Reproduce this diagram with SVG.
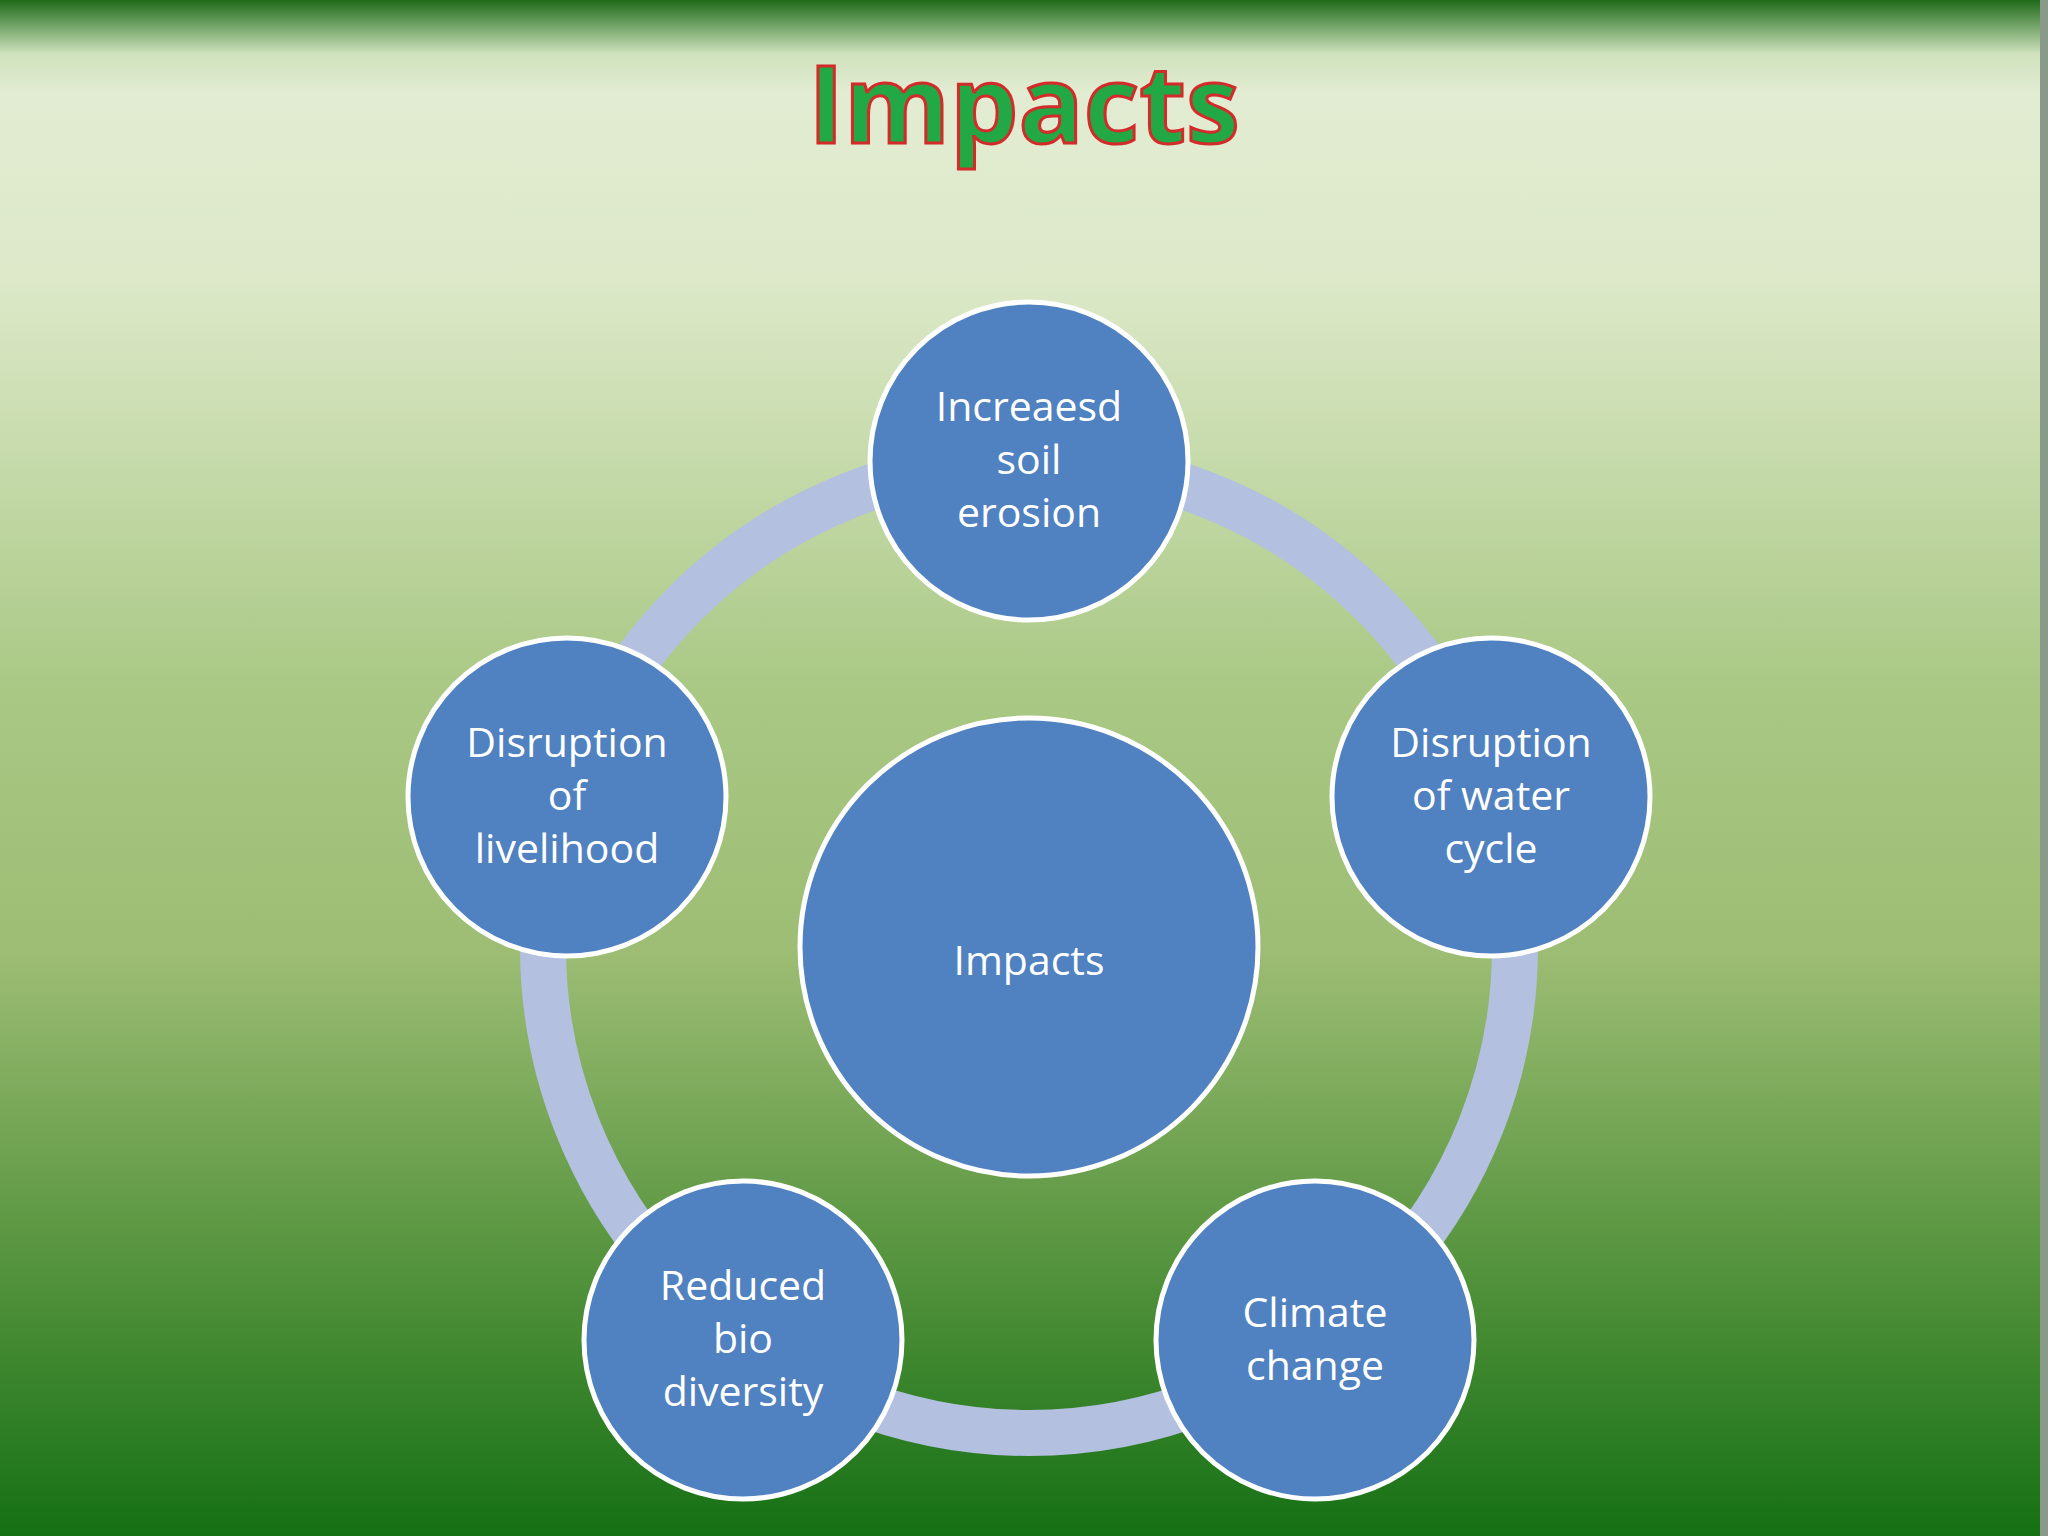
<svg xmlns="http://www.w3.org/2000/svg" width="2048" height="1536" viewBox="0 0 2048 1536">
<defs>
<linearGradient id="bg" x1="0" y1="0" x2="0" y2="1">
<stop offset="0" stop-color="#1f6b1a"/>
<stop offset="0.035" stop-color="#cfe2bd"/>
<stop offset="0.06" stop-color="#e2ecd2"/>
<stop offset="0.18" stop-color="#dde9c9"/>
<stop offset="0.45" stop-color="#a9c884"/>
<stop offset="0.62" stop-color="#9dbd74"/>
<stop offset="0.8" stop-color="#5d9843"/>
<stop offset="1" stop-color="#157014"/>
</linearGradient>
<style>
.n{fill:#5081c0;stroke:#fff;stroke-width:5}
.t{font-family:"Open Sans","DejaVu Sans",sans-serif;fill:#fff;font-size:41px;text-anchor:middle}
</style>
</defs>
<rect width="2048" height="1536" fill="url(#bg)"/>
<rect x="2040" y="0" width="8" height="1536" fill="#8a9a8a"/>
<text x="1024" y="143" font-family="Open Sans,DejaVu Sans,sans-serif" font-weight="bold" font-size="108" text-anchor="middle" fill="#22a845" stroke="#d42a2a" stroke-width="3">Impacts</text>
<g id="connectors"><circle cx="1029" cy="947" r="486" fill="none" stroke="#b3c0df" stroke-width="46"/></g>
<g id="center"><circle class="n" cx="1029" cy="947" r="229"/><text class="t" x="1029" y="975" font-size="80">Impacts</text></g>
<g id="top"><circle class="n" cx="1029" cy="461" r="159"/><text class="t" x="1029" y="421">Increaesd</text><text class="t" x="1029" y="474">soil</text><text class="t" x="1029" y="527">erosion</text></g>
<g id="right"><circle class="n" cx="1491" cy="797" r="159"/><text class="t" x="1491" y="757">Disruption</text><text class="t" x="1491" y="810">of water</text><text class="t" x="1491" y="863">cycle</text></g>
<g id="left"><circle class="n" cx="567" cy="797" r="159"/><text class="t" x="567" y="757">Disruption</text><text class="t" x="567" y="810">of</text><text class="t" x="567" y="863">livelihood</text></g>
<g id="bl"><circle class="n" cx="743" cy="1340" r="159"/><text class="t" x="743" y="1300">Reduced</text><text class="t" x="743" y="1353">bio</text><text class="t" x="743" y="1406">diversity</text></g>
<g id="br"><circle class="n" cx="1315" cy="1340" r="159"/><text class="t" x="1315" y="1327">Climate</text><text class="t" x="1315" y="1380">change</text></g>
</svg>
